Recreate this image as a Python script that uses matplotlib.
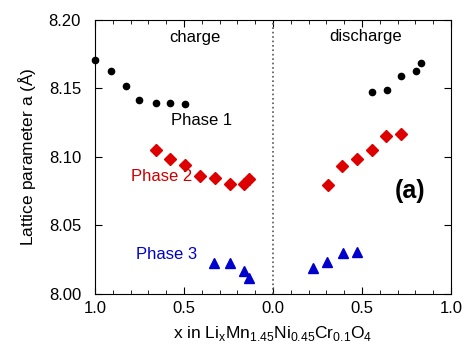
import numpy as np
import matplotlib
matplotlib.use('Agg')
import matplotlib.pyplot as plt
from matplotlib.ticker import MultipleLocator, FuncFormatter

# Datos (x en LixMn1.45Ni0.45Cr0.1O4)
# carga: x decrece de 1.0 a 0; descarga: x crece de 0 a 1.0
x_c1 = [1.0, 0.91, 0.826, 0.753, 0.659, 0.577, 0.493]
a_c1 = [8.171, 8.163, 8.152, 8.1416, 8.1396, 8.1396, 8.1385]
x_c2 = [0.659, 0.577, 0.493, 0.410, 0.328, 0.243, 0.163, 0.133]
a_c2 = [8.1053, 8.0985, 8.0944, 8.0859, 8.0844, 8.0803, 8.0803, 8.0837]
x_c3 = [0.330, 0.243, 0.165, 0.135]
a_c3 = [8.0228, 8.0224, 8.0166, 8.0117]

x_d1 = [0.556, 0.639, 0.721, 0.803, 0.831]
a_d1 = [8.1477, 8.1491, 8.1594, 8.1628, 8.1688]
x_d2 = [0.307, 0.388, 0.472, 0.556, 0.636, 0.721]
a_d2 = [8.0798, 8.0934, 8.0983, 8.1053, 8.1153, 8.1166]
x_d3 = [0.223, 0.305, 0.391, 0.470]
a_d3 = [8.019, 8.0234, 8.0297, 8.0307]

plt.rcParams['font.family'] = ['Liberation Sans', 'DejaVu Sans']

fig = plt.figure(figsize=(4.74, 3.57), dpi=100)
ax = fig.add_axes([95 / 474, 1 - 294 / 357, 356 / 474, 274 / 357])

# el lado de carga se dibuja con coordenada negativa
neg = lambda v: [-t for t in v]
ax.plot(neg(x_c1), a_c1, 'o', color='black', ms=4.5, clip_on=False)
ax.plot(x_d1, a_d1, 'o', color='black', ms=4.5, clip_on=False)
ax.plot(neg(x_c2), a_c2, 'D', color='#dd0000', ms=5.8)
ax.plot(x_d2, a_d2, 'D', color='#dd0000', ms=5.8)
ax.plot(neg(x_c3), a_c3, '^', color='#0000cc', ms=6.5)
ax.plot(x_d3, a_d3, '^', color='#0000cc', ms=6.5)

ax.axvline(0, color='#555555', ls=':', lw=1.2)

ax.set_xlim(-1, 1)
ax.set_ylim(8.00, 8.20)
ax.xaxis.set_major_locator(MultipleLocator(0.5))
ax.xaxis.set_minor_locator(MultipleLocator(0.1))
ax.yaxis.set_major_locator(MultipleLocator(0.05))
ax.xaxis.set_major_formatter(FuncFormatter(lambda v, p: f'{abs(v):.1f}'))
ax.yaxis.set_major_formatter(FuncFormatter(lambda v, p: f'{v:.2f}'))
ax.tick_params(which='both', direction='in', top=True, right=True, labelsize=12)
ax.tick_params(which='major', length=5)
ax.tick_params(which='minor', length=3)
ax.tick_params(axis='y', pad=10)
ax.tick_params(axis='x', pad=5)

ax.set_xlabel(r'x in Li$_\mathregular{x}$Mn$_\mathregular{1.45}$Ni$_\mathregular{0.45}$Cr$_\mathregular{0.1}$O$_\mathregular{4}$',
              fontsize=12.5, labelpad=6)
ax.set_ylabel(r'Lattice parameter a ($\mathregular{\AA}$)', fontsize=12.5, labelpad=8)

ax.text(-0.44, 8.187, 'charge', ha='center', va='center', fontsize=12)
ax.text(0.52, 8.188, 'discharge', ha='center', va='center', fontsize=12)
ax.text(-0.40, 8.127, 'Phase 1', ha='center', va='center', fontsize=12)
ax.text(-0.627, 8.086, 'Phase 2', ha='center', va='center', fontsize=12, color='#cc0000')
ax.text(-0.60, 8.0285, 'Phase 3', ha='center', va='center', fontsize=12, color='#0000cc')
ax.text(0.77, 8.075, '(a)', ha='center', va='center', fontsize=18, fontweight='bold')

fig.savefig('out.png', dpi=100)
